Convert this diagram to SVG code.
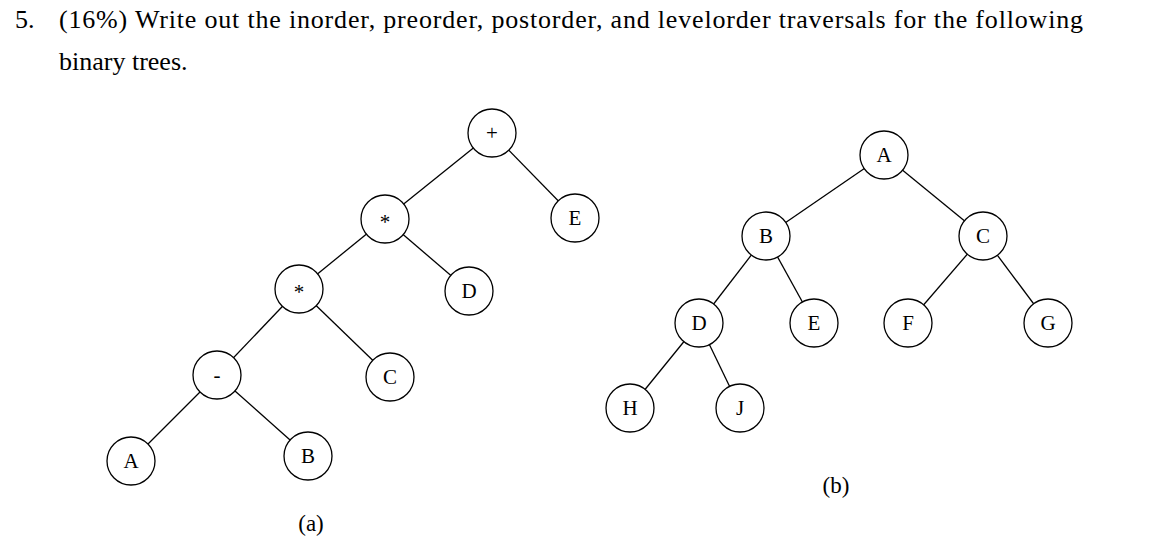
<svg xmlns="http://www.w3.org/2000/svg" width="1153" height="541" viewBox="0 0 1153 541">
<style>
.n circle{fill:#fff;stroke:#000;stroke-width:1.3}
.n text,.t{font-family:"Liberation Serif",serif;font-size:21px;text-anchor:middle;dominant-baseline:central}
.e line{stroke:#000;stroke-width:1.3}
.h{font-family:"Liberation Serif",serif;font-size:26px}
</style>
<rect width="1153" height="541" fill="#fff"/>
<text class="h" x="15" y="28">5.</text>
<text class="h" x="59" y="28" textLength="1024" lengthAdjust="spacing">(16%) Write out the inorder, preorder, postorder, and levelorder traversals for the following</text>
<text class="h" x="59" y="70">binary trees.</text>
<g class="e">
<line x1="492" y1="133" x2="385" y2="219"/><line x1="492" y1="133" x2="575" y2="218"/>
<line x1="385" y1="219" x2="299" y2="289"/><line x1="385" y1="219" x2="469" y2="291"/>
<line x1="299" y1="289" x2="217" y2="375"/><line x1="299" y1="289" x2="390" y2="377"/>
<line x1="217" y1="375" x2="131" y2="461"/><line x1="217" y1="375" x2="308" y2="456"/>
<line x1="884" y1="155" x2="766" y2="236"/><line x1="884" y1="155" x2="983" y2="236"/>
<line x1="766" y1="236" x2="699" y2="323"/><line x1="766" y1="236" x2="814" y2="323"/>
<line x1="983" y1="236" x2="908" y2="323"/><line x1="983" y1="236" x2="1048" y2="323"/>
<line x1="699" y1="323" x2="630" y2="408"/><line x1="699" y1="323" x2="740" y2="408"/>
</g>
<g id="a_plus" class="n"><circle cx="492" cy="133" r="24"/><text x="492" y="133">+</text></g>
<g id="a_mul1" class="n"><circle cx="385" cy="219" r="24"/><text x="385" y="222">*</text></g>
<g id="a_E" class="n"><circle cx="575" cy="218" r="24"/><text x="575" y="218">E</text></g>
<g id="a_mul2" class="n"><circle cx="299" cy="289" r="24"/><text x="299" y="292">*</text></g>
<g id="a_D" class="n"><circle cx="469" cy="291" r="24"/><text x="469" y="291">D</text></g>
<g id="a_minus" class="n"><circle cx="217" cy="375" r="24"/><text x="217" y="375">-</text></g>
<g id="a_C" class="n"><circle cx="390" cy="377" r="24"/><text x="390" y="377">C</text></g>
<g id="a_A" class="n"><circle cx="131" cy="461" r="24"/><text x="131" y="461">A</text></g>
<g id="a_B" class="n"><circle cx="308" cy="456" r="24"/><text x="308" y="456">B</text></g>
<g id="b_A" class="n"><circle cx="884" cy="155" r="24"/><text x="884" y="155">A</text></g>
<g id="b_B" class="n"><circle cx="766" cy="236" r="24"/><text x="766" y="236">B</text></g>
<g id="b_C" class="n"><circle cx="983" cy="236" r="24"/><text x="983" y="236">C</text></g>
<g id="b_D" class="n"><circle cx="699" cy="323" r="24"/><text x="699" y="323">D</text></g>
<g id="b_E" class="n"><circle cx="814" cy="323" r="24"/><text x="814" y="323">E</text></g>
<g id="b_F" class="n"><circle cx="908" cy="323" r="24"/><text x="908" y="323">F</text></g>
<g id="b_G" class="n"><circle cx="1048" cy="323" r="24"/><text x="1048" y="323">G</text></g>
<g id="b_H" class="n"><circle cx="630" cy="408" r="24"/><text x="630" y="408">H</text></g>
<g id="b_J" class="n"><circle cx="740" cy="408" r="24"/><text x="740" y="408">J</text></g>
<text class="t" x="311" y="523" style="font-size:23px">(a)</text>
<text class="t" x="836" y="485" style="font-size:23px">(b)</text>
</svg>
